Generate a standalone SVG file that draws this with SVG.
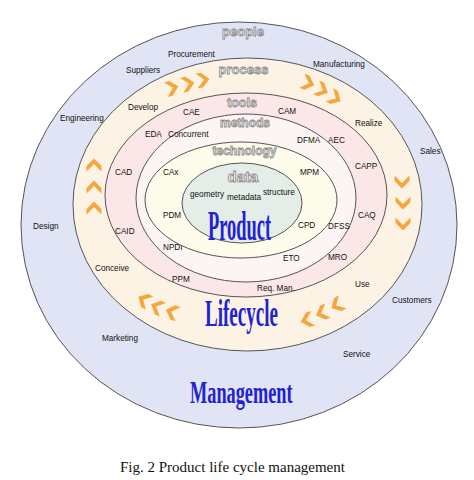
<svg xmlns="http://www.w3.org/2000/svg" width="474" height="480" viewBox="0 0 474 480">
<style>
.ring{stroke:#555;stroke-width:1}
.t{font-family:"Liberation Sans",Arial,sans-serif;font-size:8.2px;fill:#111}
.lab{font-family:"Liberation Sans",Arial,sans-serif;font-weight:bold;fill:#f6f6f6;stroke:#888;stroke-width:0.8;text-anchor:middle}
.big{font-family:"Liberation Serif","Times New Roman",serif;font-weight:bold;fill:#2222d4}
.cap{font-family:"Liberation Serif","Times New Roman",serif;font-size:15px;fill:#111}
.ch{fill:#f7a53c}
</style>
<defs>
<polygon id="chev" points="-6.5,-7.5 -1,-7.5 6.5,0 -1,7.5 -6.5,7.5 1,0"/>
</defs>
<rect width="474" height="480" fill="#ffffff"/>

<g id="people">
<ellipse class="ring" cx="239" cy="225" rx="218" ry="203" fill="#e1e4f5"/>
<text class="lab" x="243" y="36" font-size="13">people</text>
<text class="t" x="168" y="57">Procurement</text>
<text class="t" x="126" y="73">Suppliers</text>
<text class="t" x="313" y="67">Manufacturing</text>
<text class="t" x="60" y="121">Engineering</text>
<text class="t" x="420" y="154">Sales</text>
<text class="t" x="33" y="229">Design</text>
<text class="t" x="392" y="303">Customers</text>
<text class="t" x="102" y="341">Marketing</text>
<text class="t" x="343" y="357">Service</text>
</g>

<g id="process">
<ellipse class="ring" cx="247.5" cy="204.5" rx="174.5" ry="146.5" fill="#fdf3e4"/>
<text class="lab" x="243.5" y="74" font-size="13">process</text>
<text class="t" x="128" y="110">Develop</text>
<text class="t" x="355" y="126">Realize</text>
<text class="t" x="95" y="271">Conceive</text>
<text class="t" x="355" y="287">Use</text>
</g>

<g id="tools">
<ellipse class="ring" cx="246" cy="195" rx="141" ry="102" fill="#fbe7e8"/>
<text class="lab" x="242" y="107" font-size="12.5">tools</text>
<text class="t" x="183" y="115">CAE</text>
<text class="t" x="278" y="114">CAM</text>
<text class="t" x="145" y="137">EDA</text>
<text class="t" x="115" y="175">CAD</text>
<text class="t" x="115" y="234">CAID</text>
<text class="t" x="328" y="143">AEC</text>
<text class="t" x="355" y="169">CAPP</text>
<text class="t" x="358" y="218">CAQ</text>
<text class="t" x="328" y="260">MRO</text>
<text class="t" x="172" y="282">PPM</text>
<text class="t" x="257" y="291">Req. Man.</text>
</g>

<g id="methods">
<ellipse class="ring" cx="246" cy="198" rx="110" ry="84" fill="#fcf5f3"/>
<text class="lab" x="245" y="127" font-size="12">methods</text>
<text class="t" x="168" y="137">Concurrent</text>
<text class="t" x="297" y="143">DFMA</text>
<text class="t" x="328" y="229">DFSS</text>
<text class="t" x="163" y="250">NPDI</text>
<text class="t" x="283" y="261">ETO</text>
</g>

<g id="technology">
<ellipse class="ring" cx="241" cy="200" rx="96" ry="58" fill="#fdfbea"/>
<text class="lab" x="244.5" y="155" font-size="12">technology</text>
<text class="t" x="163" y="175">CAx</text>
<text class="t" x="300" y="175">MPM</text>
<text class="t" x="163" y="218">PDM</text>
<text class="t" x="298" y="228">CPD</text>
</g>

<g id="data">
<ellipse class="ring" cx="242" cy="203" rx="60" ry="40" fill="#e5ede8"/>
<text class="lab" x="243" y="182" font-size="15">data</text>
<text class="t" x="190" y="197">geometry</text>
<text class="t" x="227" y="200" font-size="7.8">metadata</text>
<text class="t" x="263" y="195">structure</text>
</g>

<g id="arrows" class="ch">
<use href="#chev" transform="translate(172,88) rotate(-15)"/>
<use href="#chev" transform="translate(188,84) rotate(-12)"/>
<use href="#chev" transform="translate(203,80) rotate(-8)"/>
<use href="#chev" transform="translate(308,83) rotate(20)"/>
<use href="#chev" transform="translate(322,90) rotate(25)"/>
<use href="#chev" transform="translate(335,98) rotate(30)"/>
<use href="#chev" transform="translate(402,182) rotate(90)"/>
<use href="#chev" transform="translate(403,203) rotate(90)"/>
<use href="#chev" transform="translate(403,224) rotate(90)"/>
<use href="#chev" transform="translate(337,305) rotate(150)"/>
<use href="#chev" transform="translate(322,313) rotate(158)"/>
<use href="#chev" transform="translate(307,320) rotate(165)"/>
<use href="#chev" transform="translate(172,312) rotate(200)"/>
<use href="#chev" transform="translate(157,307) rotate(205)"/>
<use href="#chev" transform="translate(144,300) rotate(210)"/>
<use href="#chev" transform="translate(94,208) rotate(-90)"/>
<use href="#chev" transform="translate(94,187) rotate(-90)"/>
<use href="#chev" transform="translate(94,165) rotate(-90)"/>
</g>

<g id="titles">
<text class="big" font-size="38" transform="translate(208,240) scale(0.485,1.1)">Product</text>
<text class="big" font-size="34" transform="translate(205,326) scale(0.56,1.12)">Lifecycle</text>
<text class="big" font-size="31" transform="translate(190,403) scale(0.59,1)">Management</text>
</g>

<text class="cap" x="120" y="472">Fig. 2 Product life cycle management</text>
</svg>
